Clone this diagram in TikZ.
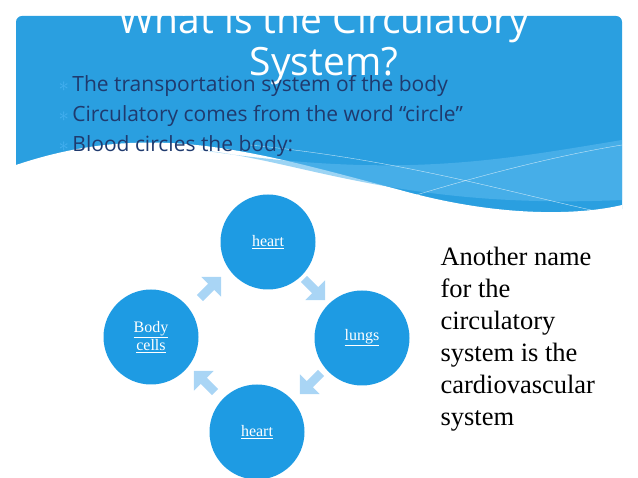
\documentclass[tikz,border=0pt]{standalone}
\usepackage{fontspec}
\setmainfont{Liberation Serif}
\newfontfamily\osans{Open Sans}
\usetikzlibrary{shapes.arrows}
\definecolor{ban}{HTML}{2A9FE0}
\definecolor{ban2}{HTML}{5AB8EE}
\definecolor{ast}{HTML}{45B0F0}
\definecolor{navy}{HTML}{1F3A6E}
\definecolor{circ}{HTML}{1E9BE3}
\definecolor{arr}{HTML}{A9D5F5}
\tikzset{x=1pt,y=-1pt,
  cyc/.style={circle,fill=circ,minimum size=95pt,inner sep=0pt,text=white,font=\fontsize{16}{18}\selectfont,align=center},
  blk/.style={single arrow,fill=arr,minimum height=30pt,minimum width=28pt,single arrow head extend=5pt,inner sep=2pt},
  bul/.style={anchor=west,text=navy,font=\osans\fontsize{21}{24}\selectfont}}
\begin{document}
\begin{tikzpicture}
\useasboundingbox (0,0) rectangle (638,478);
\fill[ban,rounded corners=6pt] (16,16) -- (622,16) -- (622,215) -- (16,215) -- cycle;
\fill[white] (16,165) .. controls (150,120) and (250,150) .. (400,190) .. controls (500,218) and (580,215) .. (622,205) -- (622,230) -- (16,230) -- cycle;
\fill[ban2,opacity=0.6] (200,150) .. controls (300,160) and (400,210) .. (622,200) -- (622,140) .. controls (500,160) and (400,180) .. (200,150) -- cycle;
\draw[white,opacity=0.7] (250,145) .. controls (400,160) and (500,190) .. (600,212);
\draw[white,opacity=0.7] (400,200) .. controls (480,175) and (560,155) .. (622,145);
\node[text=white,font=\osans\fontsize{39}{42}\selectfont,align=center] (title) at (324,44) {What is the Circulatory\\System?};
\node[bul] (b1) at (55,86) {\textcolor{ast}{$\ast$}\,The transportation system of the body};
\node[bul] (b2) at (55,116) {\textcolor{ast}{$\ast$}\,Circulatory comes from the word “circle”};
\node[bul] (b3) at (55,146) {\textcolor{ast}{$\ast$}\,Blood circles the body:};
\node[cyc] (h1) at (268,242) {\underline{heart}};
\node[cyc] (lu) at (362,338) {\underline{lungs}};
\node[cyc] (h2) at (257,432) {\underline{heart}};
\node[cyc] (bc) at (151,337) {\underline{Body}\\\underline{cells}};
\node[blk,rotate=-45] (a1) at (313,288) {};
\node[blk,rotate=-135] (a2) at (312,382) {};
\node[blk,rotate=135] (a3) at (206,383) {};
\node[blk,rotate=45] (a4) at (209,289) {};
\node[anchor=north west,align=left,font=\fontsize{26.5}{32}\selectfont] (note) at (437,244) {Another name\\for the\\circulatory\\system is the\\cardiovascular\\system};
\end{tikzpicture}
\end{document}
